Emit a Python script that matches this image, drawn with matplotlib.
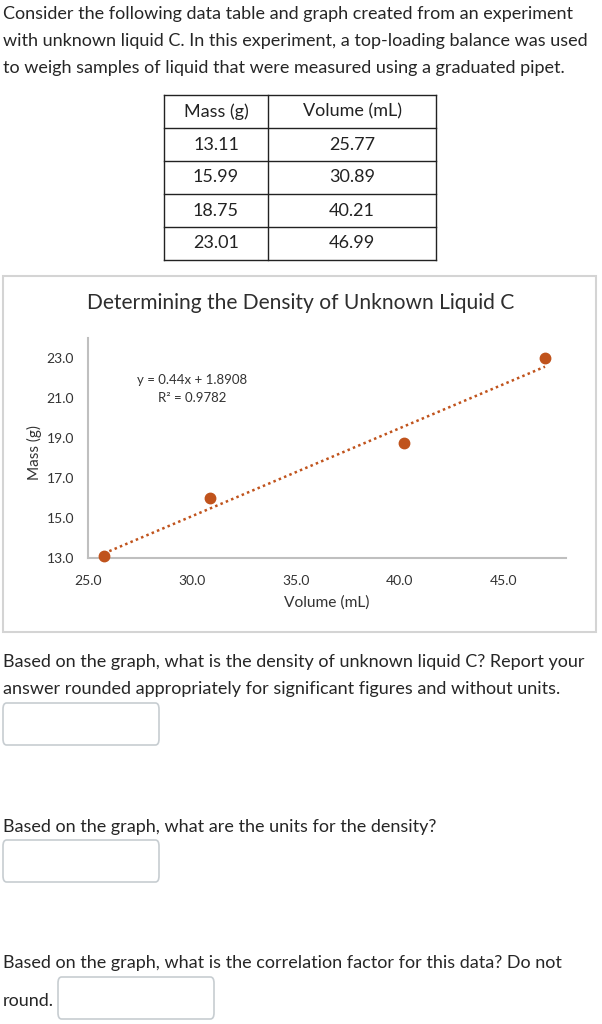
import numpy as np
import matplotlib
matplotlib.use("Agg")
import matplotlib.pyplot as plt
from matplotlib.patches import Rectangle, FancyBboxPatch

plt.rcParams['font.family'] = ['Lato', 'DejaVu Sans']

# data from the table
mass = [13.11, 15.99, 18.75, 23.01]
volume = [25.77, 30.89, 40.21, 46.99]
headers = ['Mass (g)', 'Volume (mL)']
slope = 0.44
intercept = 1.8908
r2 = 0.9782
yticks = [13, 15, 17, 19, 21, 23]
xticks = [25, 30, 35, 40, 45]

W, H = 602, 1024
fig = plt.figure(figsize=(W / 100, H / 100), dpi=100)
fig.patch.set_facecolor('white')


def fx(x):
    return x / W


def fy(y):
    return 1 - y / H


def ptext(x, y, s, size=13.0, ha='left', **kw):
    fig.text(fx(x), fy(y), s, fontsize=size, ha=ha, va='center', color='#262626', **kw)


# intro text
ptext(3, 14, 'Consider the following data table and graph created from an experiment')
ptext(3, 41, 'with unknown liquid C. In this experiment, a top-loading balance was used')
ptext(3, 68, 'to weigh samples of liquid that were measured using a graduated pipet.')

# table
tx = [164, 268, 436]
ty = [95, 128, 161, 194, 227, 260]
for y in ty:
    fig.add_artist(plt.Line2D([fx(tx[0]), fx(tx[2])], [fy(y), fy(y)], color='#222222', lw=1))
for x in tx:
    fig.add_artist(plt.Line2D([fx(x), fx(x)], [fy(ty[0]), fy(ty[-1])], color='#222222', lw=1))
rows = [headers] + [['%.2f' % m, '%.2f' % v] for m, v in zip(mass, volume)]
for i, row in enumerate(rows):
    yc = (ty[i] + ty[i + 1]) / 2
    for j, cell in enumerate(row):
        xc = (tx[j] + tx[j + 1]) / 2
        fig.text(fx(xc), fy(yc), cell, fontsize=13, ha='center', va='center', color='#222222')

# chart frame
fig.add_artist(Rectangle((fx(3), fy(632)), fx(596) - fx(3), fy(276) - fy(632),
                         transform=fig.transFigure, fill=False, ec='#d4d4d4', lw=1.5))
fig.text(fx(301), fy(303), 'Determining the Density of Unknown Liquid C',
         fontsize=15.1, ha='center', va='center', color='#2e2e2e')

ax = fig.add_axes([fx(88), fy(558), fx(566) - fx(88), fy(338) - fy(558)])
ax.set_xlim(25, 48)
ax.set_ylim(13, 24)
orange = '#c0531c'
xs = np.array([min(volume), max(volume)])
ax.plot(xs, slope * xs + intercept, linestyle=(0, (1, 1.3)), color=orange, lw=1.8, clip_on=False)
ax.plot(volume, mass, 'o', color=orange, markersize=7.5, clip_on=False, zorder=5)
ax.set_xticks(xticks)
ax.set_xticklabels(['%.1f' % t for t in xticks])
ax.set_yticks(yticks)
ax.set_yticklabels(['%.1f' % t for t in yticks])
ax.tick_params(length=0, labelsize=10, colors='#333333')
ax.tick_params(axis='y', pad=10)
ax.tick_params(axis='x', pad=12)
for s in ['top', 'right']:
    ax.spines[s].set_visible(False)
for s in ['left', 'bottom']:
    ax.spines[s].set_color('#bfbfbf')
    ax.spines[s].set_linewidth(1.5)
ax.patch.set_alpha(0)

fig.text(fx(192), fy(380), 'y = %.2fx + %.4f' % (slope, intercept), fontsize=9.5,
         ha='center', va='center', color='#333333')
fig.text(fx(192), fy(398), 'R² = %.4f' % r2, fontsize=9.5, ha='center', va='center', color='#333333')
fig.text(fx(327), fy(603), 'Volume (mL)', fontsize=11.2, ha='center', va='center', color='#333333')
fig.text(fx(34), fy(452), 'Mass (g)', fontsize=11, ha='center', va='center', rotation=90, color='#333333')

# questions
ptext(3, 662, 'Based on the graph, what is the density of unknown liquid C? Report your')
ptext(3, 689, 'answer rounded appropriately for significant figures and without units.')
ptext(3, 827, 'Based on the graph, what are the units for the density?')
ptext(3, 963, 'Based on the graph, what is the correlation factor for this data? Do not')
ptext(3, 1001, 'round.')


def box(x0, y0, x1, y1):
    fig.add_artist(FancyBboxPatch((fx(x0), fy(y1)), fx(x1) - fx(x0), fy(y0) - fy(y1),
                                  boxstyle='round,pad=0,rounding_size=0.006',
                                  transform=fig.transFigure, fc='white', ec='#c7cdd1', lw=1.2))


box(3, 703, 159, 745)
box(3, 840, 159, 882)
box(58, 977, 214, 1019)

fig.savefig('out.png', dpi=100)
